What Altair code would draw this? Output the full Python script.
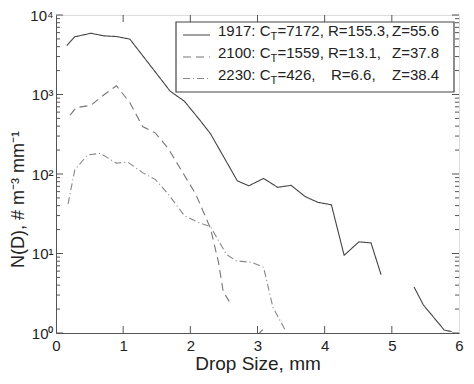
import altair as alt
import pandas as pd

FONT = "Liberation Sans"

# ---------------- data ----------------
series_names = ["1917", "2100", "2230"]

size_1917 = [0.16, 0.28, 0.52, 0.71, 0.90, 1.10, 1.70, 1.91, 2.13, 2.30, 2.70, 2.87, 3.09,
             3.30, 3.50, 3.71, 3.90, 4.10, 4.29, 4.51, 4.69, 4.84, 5.33, 5.47, 5.78, 5.89]
nd_1917 = [4120, 5320, 5890, 5470, 5360, 4970, 1100, 826, 490, 321, 82, 71, 88,
           68, 72, 52, 44, 41, 9.5, 14, 13.6, 5.4, 3.8, 2.25, 1.09, 1.04]
part_1917 = [0] * 22 + [1] * 4

size_2100 = [0.21, 0.30, 0.52, 0.73, 0.90, 1.10, 1.29, 1.48, 1.67, 1.89, 2.08, 2.30,
             2.42, 2.49, 2.58, 3.03, 3.08]
nd_2100 = [551, 684, 731, 1016, 1288, 787, 395, 327, 210, 103, 56, 20.7,
           7.7, 3.3, 2.5, 1.0, 1.1]
part_2100 = [0] * 15 + [1] * 2

size_2230 = [0.18, 0.28, 0.47, 0.66, 0.90, 1.07, 1.29, 1.48, 1.67, 1.91, 2.10, 2.30,
             2.54, 2.68, 2.92, 3.09, 3.23, 3.42]
nd_2230 = [42, 113, 174, 182, 137, 141, 104, 85, 56, 30, 25, 21.7,
           9.7, 8.1, 7.7, 6.7, 2.1, 1.06]
part_2230 = [0] * 18

legend_pre = ["1917: C", "2100: C", "2230: C"]
legend_mid = ["=7172,", "=1559,", "=426,"]
legend_r = ["R=155.3,", "R=13.1,", "R=6.6,"]
legend_z = ["Z=55.6", "Z=37.8", "Z=38.4"]

x_ticks = [0, 1, 2, 3, 4, 5, 6]
y_ticks = [1, 10, 100, 1000, 10000]
y_tick_labels = ["10⁰", "10¹", "10²", "10³", "10⁴"]
y_minor = [m * 10 ** k for k in range(4) for m in range(2, 10)]

# ---------------- styles ----------------
colors = ["#444444", "#777777", "#888888"]
dashes = [[1, 0], [8, 5], [7, 3, 1, 3]]
AX = "#555555"

W, H = 403, 318

rows = []
for name, xs_, ys_, ps_ in [("1917", size_1917, nd_1917, part_1917),
                            ("2100", size_2100, nd_2100, part_2100),
                            ("2230", size_2230, nd_2230, part_2230)]:
    for a, b, p in zip(xs_, ys_, ps_):
        rows.append({"x": a, "y": b, "series": name, "seg": f"{name}-{p}"})
df = pd.DataFrame(rows)

xscale = alt.Scale(domain=[0, 6], nice=False, zero=False)
yscale = alt.Scale(type="log", domain=[1, 10000], nice=False)

label_expr = " : ".join(
    [f"datum.value == {v} ? '{l}'" for v, l in zip(y_ticks, y_tick_labels)]) + " : ''"

xaxis = alt.Axis(values=x_ticks, ticks=False, grid=False, labelFontSize=15,
                 labelPadding=5, labelColor="#222", labelFont=FONT, labelFlush=False,
                 title="Drop Size, mm", titleFontSize=19, titleFont=FONT,
                 titleFontWeight="normal", titleColor="#222", titlePadding=1,
                 domainColor=AX, format="d")
yaxis = alt.Axis(values=y_ticks, ticks=False, grid=False, labelFontSize=15,
                 labelPadding=3, labelColor="#222", labelFont=FONT, labelFlush=False,
                 labelExpr=label_expr,
                 title="N(D), # m⁻³ mm⁻¹", titleFontSize=18, titleFont=FONT,
                 titleFontWeight="normal", titleColor="#222", titlePadding=2,
                 titleY=184, domainColor=AX)

lines = alt.Chart(df).mark_line(strokeWidth=1.1, clip=True).encode(
    x=alt.X("x:Q", scale=xscale, axis=xaxis),
    y=alt.Y("y:Q", scale=yscale, axis=yaxis),
    color=alt.Color("series:N", scale=alt.Scale(domain=series_names, range=colors), legend=None),
    strokeDash=alt.StrokeDash("series:N", scale=alt.Scale(domain=series_names, range=dashes),
                              legend=None),
    detail="seg:N",
)

# inward tick marks
ymin_df = pd.DataFrame({"y": y_minor})
ymaj_df = pd.DataFrame({"y": y_ticks})
xmaj_df = pd.DataFrame({"x": x_ticks[1:-1]})

def yrule(d, x0, x1):
    return alt.Chart(d).mark_rule(color=AX, strokeWidth=1).encode(
        y=alt.Y("y:Q", scale=yscale, axis=yaxis), x=alt.value(x0), x2=alt.value(x1))

def xrule(d, y0, y1):
    return alt.Chart(d).mark_rule(color=AX, strokeWidth=1).encode(
        x=alt.X("x:Q", scale=xscale, axis=xaxis), y=alt.value(y0), y2=alt.value(y1))

ticks = [yrule(ymin_df, 0, 4), yrule(ymin_df, W - 4, W),
         yrule(ymaj_df, 0, 7), yrule(ymaj_df, W - 7, W),
         xrule(xmaj_df, H - 7, H), xrule(xmaj_df, 0, 7)]

one = pd.DataFrame({"a": [0]})
box = alt.Chart(one).mark_rect(fill="white", stroke="#444", strokeWidth=1.2).encode(
    x=alt.value(120), x2=alt.value(398), y=alt.value(7), y2=alt.value(77))


def txt(s, x, y, fs=15):
    return alt.Chart(one).mark_text(align="left", baseline="alphabetic", fontSize=fs,
                                    font=FONT, color="#222").encode(
        x=alt.value(x), y=alt.value(y), text=alt.value(s))


legend_layers = [box]
row_y = [21, 43, 64.5]
dx = -2
for i in range(3):
    yb = row_y[i]
    legend_layers.append(alt.Chart(one).mark_rule(
        color=colors[i], strokeWidth=1.1, strokeDash=dashes[i]).encode(
        x=alt.value(129 + dx), x2=alt.value(156 + dx), y=alt.value(yb - 1), y2=alt.value(yb - 1)))
    legend_layers.append(txt(legend_pre[i], 164 + dx, yb))
    legend_layers.append(txt("T", 216.5 + dx, yb + 4, 11))
    legend_layers.append(txt(legend_mid[i], 223.5 + dx, yb))
    legend_layers.append(txt(legend_r[i], 274 + dx + (3 if i == 2 else 0), yb))
    legend_layers.append(txt(legend_z[i], 338 + dx, yb))

chart = alt.layer(lines, *ticks, *legend_layers).properties(
    width=W, height=H,
    autosize=alt.AutoSizeParams(type="none"),
    padding={"left": 48, "top": 7, "right": 6, "bottom": 40},
).configure_view(stroke=AX, strokeWidth=1).configure(background="white")

chart.save("out.html", embed_options={"renderer": "svg", "actions": False})
